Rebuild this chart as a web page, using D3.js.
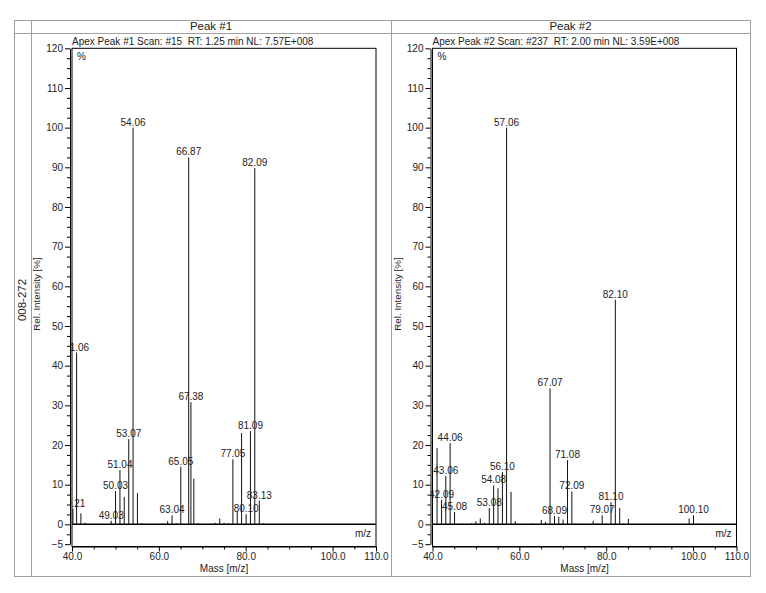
<!DOCTYPE html>
<html><head><meta charset="utf-8">
<script src="https://cdn.jsdelivr.net/npm/d3@7/dist/d3.min.js"></script>
<style>
body{margin:0;background:#fff}
text{font-family:"Liberation Sans",Arial,sans-serif}
</style>
</head><body>
<svg id="chart" width="766" height="593"></svg>
<script>
// ---------- data ----------
const panelTitles = ["Peak #1", "Peak #2"];
const scanTitles = [
  "Apex Peak #1 Scan: #15  RT: 1.25 min NL: 7.57E+008",
  "Apex Peak #2 Scan: #237  RT: 2.00 min NL: 3.59E+008"
];
const rowLabel = "008-272";

const peak1Mz  = [40.21, 41.06, 42.05, 43.02, 49.03, 50.03, 51.04, 52.03, 53.07, 54.06, 55.07, 56.05,
                  60.95, 62.02, 63.04, 64.03, 65.05, 66.87, 67.38, 68.05, 69.05, 73.00, 74.02, 75.03,
                  76.03, 77.05, 78.05, 79.05, 80.10, 81.09, 82.09, 83.13, 84.10];
const peak1Int = [3.9, 43.3, 2.8, 0.4, 0.9, 8.4, 13.7, 6.9, 21.5, 100, 7.9, 0.3,
                  0.3, 0.8, 2.3, 0.3, 14.5, 92.5, 30.8, 11.5, 0.3, 0.4, 1.5, 0.4,
                  0.3, 16.4, 3.3, 23.0, 2.6, 23.5, 89.8, 6.0, 0.3];
const peak1Labeled = [40.21, 41.06, 49.03, 50.03, 51.04, 53.07, 54.06, 63.04, 65.05, 66.87, 67.38,
                      77.05, 80.10, 81.09, 82.09, 83.13];

const peak2Mz  = [40.00, 41.05, 42.09, 43.06, 44.06, 45.08, 46.90, 49.00, 50.00, 51.00, 52.00, 53.08,
                  54.08, 55.08, 56.10, 57.06, 58.08, 59.05, 63.00, 65.05, 66.00, 67.07, 68.09, 69.07,
                  70.07, 71.08, 72.09, 73.00, 77.00, 78.00, 79.07, 80.00, 81.10, 82.10, 83.10, 84.00,
                  85.10, 99.10, 100.10, 101.00];
const peak2Int = [1.2, 19.2, 6.2, 12.2, 20.5, 3.1, 0.2, 0.3, 0.8, 1.5, 0.4, 4.1,
                  9.8, 9.1, 13.2, 100, 8.2, 0.8, 0.2, 1.1, 0.6, 34.3, 2.1, 1.9,
                  1.2, 16.2, 8.3, 0.2, 0.9, 0.2, 2.3, 0.2, 5.6, 56.6, 4.1, 0.2,
                  1.4, 1.5, 2.3, 0.2];
const peak2Labeled = [42.09, 43.06, 44.06, 45.08, 53.08, 54.08, 56.10, 57.06, 67.07, 68.09, 71.08,
                      72.09, 79.07, 81.10, 82.10, 100.10];

const xDomain = [40, 110];
const yDomain = [-5, 120];
const xMajorTicks = [40, 60, 80, 100, 110];
const xMinorTicks = [45, 50, 55, 65, 70, 75, 85, 90, 95, 105];
const yMajorTicks = [-5, 0, 10, 20, 30, 40, 50, 60, 70, 80, 90, 100, 110, 120];
const yMinorTicks = [-2.5, 2.5, 5, 7.5, 12.5, 15, 17.5, 22.5, 25, 27.5, 32.5, 35, 37.5, 42.5, 45, 47.5,
                     52.5, 55, 57.5, 62.5, 65, 67.5, 72.5, 75, 77.5, 82.5, 85, 87.5, 92.5, 95, 97.5,
                     102.5, 105, 107.5, 112.5, 115, 117.5];

const panels = [
  {mz: peak1Mz, inten: peak1Int, labeled: peak1Labeled},
  {mz: peak2Mz, inten: peak2Int, labeled: peak2Labeled}
];

// ---------- layout ----------
const svg = d3.select("#chart");
const gridColor = "#a0a0a0";
const fontFam = '"Liberation Sans", Arial, sans-serif';

// outer table
svg.append("rect").attr("x", 14.5).attr("y", 20.5).attr("width", 736).attr("height", 556)
  .attr("fill", "none").attr("stroke", gridColor);
svg.append("line").attr("x1", 14.5).attr("x2", 750.5).attr("y1", 33.5).attr("y2", 33.5).attr("stroke", gridColor);
[31.5, 391.5].forEach(x => svg.append("line").attr("x1", x).attr("x2", x).attr("y1", 20.5).attr("y2", 576.5).attr("stroke", gridColor));

// row label
svg.append("text").attr("transform", "translate(26,300) rotate(-90)")
  .attr("text-anchor", "middle").attr("font-size", 11.5).attr("fill", "#222").text(rowLabel);

const headerCenters = [211, 570.5];

panels.forEach((p, i) => {
  const dx = i * 360.5;
  const left = 72 + dx, right = 376 + dx, top = 48.3, yBottom = 544.2, boxBottom = 546.5;
  const x = d3.scaleLinear().domain(xDomain).range([left, right]);
  const y = d3.scaleLinear().domain(yDomain).range([yBottom, top]);
  const g = svg.append("g");

  // header
  g.append("text").attr("x", headerCenters[i]).attr("y", 30).attr("text-anchor", "middle")
    .attr("font-size", 11.5).attr("fill", "#222").text(panelTitles[i]);

  // scan title
  g.append("text").attr("x", left).attr("y", 45).attr("font-size", 10).attr("fill", "#222")
    .style("white-space", "pre").text(scanTitles[i]);

  // y label
  g.append("text").attr("transform", `translate(${left - 32},294) rotate(-90)`)
    .attr("text-anchor", "middle").attr("font-size", 9.8).attr("fill", "#222").text("Rel. Intensity [%]");

  // clip
  const cid = "clip" + i;
  svg.append("clipPath").attr("id", cid).append("rect")
    .attr("x", left - 2).attr("y", top).attr("width", right - left + 2).attr("height", boxBottom - top);
  const plot = g.append("g").attr("clip-path", `url(#${cid})`);

  const data = p.mz.map((m, k) => ({m, v: p.inten[k], lab: p.labeled.includes(m)}));

  plot.selectAll("line.bar").data(data).join("line").attr("class", "bar")
    .attr("x1", d => x(d.m)).attr("x2", d => x(d.m))
    .attr("y1", y(0)).attr("y2", d => y(d.v))
    .attr("stroke", "#111").attr("stroke-width", 1);

  plot.selectAll("text.lab").data(data.filter(d => d.lab)).join("text").attr("class", "lab")
    .attr("x", d => x(d.m)).attr("y", d => y(d.v) - 2)
    .attr("text-anchor", "middle").attr("font-size", 10).attr("fill", "#222")
    .text(d => d.m.toFixed(2));

  // zero line
  g.append("line").attr("x1", left).attr("x2", right).attr("y1", y(0)).attr("y2", y(0))
    .attr("stroke", "#000").attr("stroke-width", 1.5);

  // box
  g.append("rect").attr("x", left).attr("y", top).attr("width", right - left).attr("height", boxBottom - top)
    .attr("fill", "none").attr("stroke", "#000").attr("stroke-width", 1);

  // % and m/z
  g.append("text").attr("x", left + 5).attr("y", top + 12).attr("font-size", 10).attr("fill", "#222").text("%");
  g.append("text").attr("x", right - 5).attr("y", 537).attr("text-anchor", "end")
    .attr("font-size", 10).attr("fill", "#222").text("m/z");

  // y axis
  const yAxisG = g.append("g").attr("transform", `translate(${left - 2},0)`);
  yAxisG.call(d3.axisLeft(y).tickValues(yMajorTicks).tickSize(5).tickSizeOuter(0).tickPadding(2).tickFormat(d3.format("d")));
  yAxisG.append("g").call(d3.axisLeft(y).tickValues(yMinorTicks).tickSize(3).tickSizeOuter(0).tickFormat(""))
    .select(".domain").remove();
  // x axis
  const xAxisG = g.append("g").attr("transform", `translate(0,${boxBottom})`);
  xAxisG.call(d3.axisBottom(x).tickValues(xMajorTicks).tickSize(5).tickSizeOuter(0).tickPadding(1).tickFormat(d3.format(".1f")));
  xAxisG.append("g").call(d3.axisBottom(x).tickValues(xMinorTicks).tickSize(3).tickSizeOuter(0).tickFormat(""))
    .select(".domain").remove();

  svg.selectAll(".tick text").attr("font-size", 10).attr("font-family", fontFam).attr("fill", "#222");

  g.append("text").attr("x", (left + right) / 2).attr("y", 572).attr("text-anchor", "middle")
    .attr("font-size", 10).attr("fill", "#222").text("Mass [m/z]");
});
</script>
</body></html>
